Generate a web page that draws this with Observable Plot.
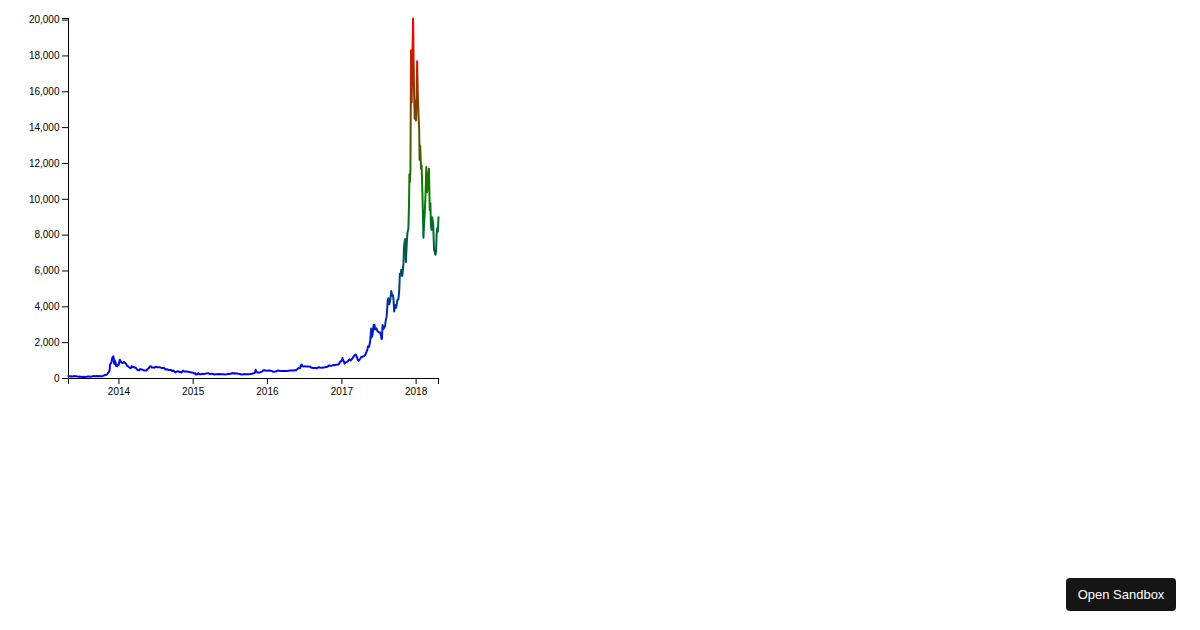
<!DOCTYPE html>
<html>
<head>
<meta charset="utf-8">
<script src="https://cdn.jsdelivr.net/npm/d3@7"></script>
<script src="https://cdn.jsdelivr.net/npm/@observablehq/plot@0.6"></script>
<style>
  html, body { margin: 0; padding: 0; background: #fff; }
  #chart { position: absolute; left: 0; top: 0; }
  #sandbox {
    position: absolute; left: 1066px; top: 578px; width: 110px; height: 33px;
    background: #151515; color: #fff; border-radius: 4px;
    font: 13px Arial, "Liberation Sans", sans-serif;
    display: flex; align-items: center; justify-content: center;
  }
</style>
</head>
<body>
<div id="chart"></div>
<div id="sandbox">Open Sandbox</div>
<script>
// Bitcoin daily high (USD), sampled
const dates = [
"2013-04-28","2013-05-02","2013-05-05","2013-05-10","2013-05-15","2013-05-20","2013-05-25","2013-05-31",
"2013-06-05","2013-06-10","2013-06-15","2013-06-20","2013-06-25","2013-06-30","2013-07-05","2013-07-08",
"2013-07-12","2013-07-18","2013-07-22","2013-07-28","2013-08-02","2013-08-08","2013-08-14","2013-08-20",
"2013-08-26","2013-09-01","2013-09-06","2013-09-12","2013-09-18","2013-09-25","2013-10-01","2013-10-08",
"2013-10-14","2013-10-20","2013-10-25","2013-10-31","2013-11-04","2013-11-08","2013-11-12","2013-11-16",
"2013-11-18","2013-11-19","2013-11-22","2013-11-26","2013-11-29","2013-12-04","2013-12-07","2013-12-08",
"2013-12-10","2013-12-13","2013-12-16","2013-12-18","2013-12-20","2013-12-23","2013-12-27","2013-12-31",
"2014-01-05","2014-01-08","2014-01-12","2014-01-15","2014-01-20","2014-01-26","2014-02-01","2014-02-05",
"2014-02-08","2014-02-11","2014-02-15","2014-02-20","2014-02-25","2014-03-01","2014-03-05","2014-03-10",
"2014-03-14","2014-03-20","2014-03-26","2014-04-01","2014-04-05","2014-04-10","2014-04-15","2014-04-20",
"2014-04-25","2014-05-01","2014-05-08","2014-05-15","2014-05-22","2014-05-28","2014-06-03","2014-06-08",
"2014-06-13","2014-06-18","2014-06-24","2014-07-01","2014-07-08","2014-07-15","2014-07-22","2014-07-29",
"2014-08-05","2014-08-12","2014-08-18","2014-08-24","2014-09-01","2014-09-08","2014-09-15","2014-09-20",
"2014-09-25","2014-10-01","2014-10-05","2014-10-12","2014-10-20","2014-10-28","2014-11-04","2014-11-12",
"2014-11-18","2014-11-25","2014-12-01","2014-12-08","2014-12-15","2014-12-22","2014-12-28","2014-12-31",
"2015-01-05","2015-01-10","2015-01-14","2015-01-17","2015-01-22","2015-01-26","2015-02-01","2015-02-08",
"2015-02-15","2015-02-22","2015-03-01","2015-03-08","2015-03-12","2015-03-18","2015-03-25","2015-04-01",
"2015-04-08","2015-04-15","2015-04-22","2015-04-30","2015-05-08","2015-05-15","2015-05-22","2015-05-31",
"2015-06-08","2015-06-15","2015-06-22","2015-07-01","2015-07-08","2015-07-12","2015-07-18","2015-07-24",
"2015-08-01","2015-08-10","2015-08-18","2015-08-24","2015-09-01","2015-09-08","2015-09-15","2015-09-22",
"2015-10-01","2015-10-08","2015-10-15","2015-10-22","2015-10-28","2015-11-01","2015-11-04","2015-11-07",
"2015-11-11","2015-11-15","2015-11-22","2015-12-01","2015-12-07","2015-12-11","2015-12-16","2015-12-21",
"2015-12-28","2015-12-31",
"2016-01-04","2016-01-09","2016-01-15","2016-01-20","2016-01-26","2016-02-01","2016-02-08","2016-02-15",
"2016-02-20","2016-02-28","2016-03-05","2016-03-12","2016-03-20","2016-03-28","2016-04-05","2016-04-12",
"2016-04-20","2016-04-28","2016-05-05","2016-05-12","2016-05-20","2016-05-28","2016-06-03","2016-06-10",
"2016-06-13","2016-06-16","2016-06-18","2016-06-22","2016-06-26","2016-07-01","2016-07-08","2016-07-15",
"2016-07-22","2016-07-30","2016-08-02","2016-08-08","2016-08-15","2016-08-22","2016-09-01","2016-09-08",
"2016-09-15","2016-09-22","2016-10-01","2016-10-08","2016-10-15","2016-10-22","2016-10-29","2016-11-05",
"2016-11-12","2016-11-19","2016-11-26","2016-12-03","2016-12-10","2016-12-17","2016-12-23","2016-12-28",
"2016-12-31",
"2017-01-04","2017-01-06","2017-01-11","2017-01-14","2017-01-20","2017-01-26","2017-02-01","2017-02-08",
"2017-02-14","2017-02-20","2017-02-26","2017-03-03","2017-03-10","2017-03-14","2017-03-18","2017-03-24",
"2017-03-31","2017-04-06","2017-04-12","2017-04-20","2017-04-27","2017-05-02","2017-05-06","2017-05-10",
"2017-05-15","2017-05-20","2017-05-25","2017-05-27","2017-06-01","2017-06-06","2017-06-11","2017-06-13",
"2017-06-16","2017-06-20","2017-06-25","2017-07-01","2017-07-07","2017-07-12","2017-07-15","2017-07-17",
"2017-07-20","2017-07-25","2017-08-01","2017-08-05","2017-08-09","2017-08-14","2017-08-17","2017-08-22",
"2017-08-27","2017-09-01","2017-09-05","2017-09-09","2017-09-12","2017-09-15","2017-09-20","2017-09-25",
"2017-10-01","2017-10-06","2017-10-10","2017-10-13","2017-10-16","2017-10-20","2017-10-25","2017-10-31",
"2017-11-02","2017-11-05","2017-11-08","2017-11-12","2017-11-15","2017-11-19","2017-11-24","2017-11-27",
"2017-11-29","2017-12-01","2017-12-04","2017-12-07","2017-12-10","2017-12-13","2017-12-17","2017-12-20",
"2017-12-22","2017-12-25","2017-12-28","2017-12-31",
"2018-01-03","2018-01-06","2018-01-09","2018-01-13","2018-01-16","2018-01-18","2018-01-21","2018-01-25",
"2018-01-28","2018-02-01","2018-02-03","2018-02-06","2018-02-09","2018-02-13","2018-02-16","2018-02-20",
"2018-02-24","2018-02-28","2018-03-05","2018-03-09","2018-03-12","2018-03-15","2018-03-18","2018-03-21",
"2018-03-26","2018-03-30","2018-04-02","2018-04-06","2018-04-09","2018-04-12","2018-04-15","2018-04-18",
"2018-04-21"
];
const highs = [
136,126,118,122,115,123,133,129,
122,110,103,111,104,97,82,76,
96,90,92,97,106,106,104,113,
120,135,131,137,131,134,132,131,
145,170,210,202,228,300,362,440,
755,785,845,936,1159,1242,1096,820,
1030,950,880,700,740,690,780,760,
1050,1000,915,880,870,930,860,820,
750,700,680,620,590,580,690,640,
640,615,585,490,470,455,530,510,
500,460,445,450,525,590,680,665,
612,620,605,655,630,625,625,590,
590,580,500,520,480,480,480,420,
440,390,340,390,400,360,335,440,
390,385,385,375,355,335,330,320,
280,300,230,215,240,310,240,235,
260,250,262,285,298,290,250,260,
260,225,237,237,245,239,242,233,
230,238,249,265,272,311,285,295,
282,267,258,230,230,245,232,232,
239,246,266,276,305,333,490,390,
340,335,325,375,400,455,470,440,
435,430,
434,456,435,425,396,380,385,409,
445,435,425,420,413,425,424,427,
443,450,450,456,455,535,575,580,
704,776,777,680,675,690,665,670,
670,660,615,595,585,590,575,630,
610,600,616,620,645,660,720,710,
718,750,745,770,776,792,923,980,
970,
1148,1040,950,830,900,925,990,1070,
1010,1090,1190,1280,1330,1250,1100,980,
1090,1200,1215,1250,1350,1480,1600,1800,
1770,2080,2790,2290,2450,2990,2980,2740,
2750,2800,2640,2580,2580,2420,2200,2220,
2990,2770,2920,3270,3450,4300,4480,4140,
4400,4890,4630,4650,4390,3740,4100,3950,
4380,4430,4900,5850,5760,6070,5720,6440,
7300,7600,7780,6500,7330,8100,8380,9700,
11400,10950,11600,18300,15400,17500,20089,17500,
15900,14500,15500,14400,
15400,17700,15900,14600,13900,12200,13000,11700,
11900,10300,9400,7850,8600,9400,10200,11800,
10400,11050,11700,9400,9800,8500,8300,9000,
8600,7200,7100,6900,7100,8100,8400,8200,
9000
];
const yTicks = [0,2000,4000,6000,8000,10000,12000,14000,16000,18000,20000];
const xTickYears = ["2014-01-01","2015-01-01","2016-01-01","2017-01-01","2018-01-01"];
const gradientStops = [[0, "red"], [0.5, "green"], [1, "blue"]];

const data = dates.map((d, i) => ({date: new Date(d + "T00:00:00"), high: highs[i]}));
const xTicks = xTickYears.map(d => new Date(d + "T00:00:00"));
const start = data[0].date, end = data[data.length - 1].date;
const maxHigh = d3.max(highs);

function gradientDefs() {
  const ns = "http://www.w3.org/2000/svg";
  const defs = document.createElementNS(ns, "defs");
  const g = document.createElementNS(ns, "linearGradient");
  g.setAttribute("id", "price-gradient");
  g.setAttribute("x1", "0"); g.setAttribute("y1", "0");
  g.setAttribute("x2", "0"); g.setAttribute("y2", "1");
  for (const [o, c] of gradientStops) {
    const s = document.createElementNS(ns, "stop");
    s.setAttribute("offset", o);
    s.setAttribute("stop-color", c);
    g.appendChild(s);
  }
  defs.appendChild(g);
  return defs;
}

const chart = Plot.plot({
  width: 460,
  height: 400,
  marginLeft: 68,
  marginRight: 22,
  marginTop: 18,
  marginBottom: 22,
  style: {fontFamily: "Arial, 'Liberation Sans', sans-serif", fontSize: "10px", color: "#000", background: "transparent"},
  x: {type: "utc", domain: [start, end]},
  y: {domain: [0, maxHigh]},
  marks: [
    gradientDefs,
    Plot.axisY({ticks: yTicks, tickSize: 6, tickPadding: 3, tickFormat: d => d3.format(",")(d), label: null, fill: "#000", stroke: "#000"}),
    Plot.axisY({ticks: [0, maxHigh], tickSize: 6, tickFormat: () => "", label: null, stroke: "#000"}),
    Plot.axisX({ticks: xTicks, tickSize: 6, tickPadding: 3, tickFormat: d3.utcFormat("%Y"), label: null, fill: "#000", stroke: "#000"}),
    Plot.axisX({ticks: [start, end], tickSize: 6, tickFormat: () => "", label: null, stroke: "#000"}),
    Plot.ruleY([0], {stroke: "#000"}),
    Plot.ruleX([start], {stroke: "#000"}),
    Plot.lineY(data, {x: "date", y: "high", stroke: "url(#price-gradient)", strokeWidth: 2, strokeLinejoin: "round"})
  ]
});
document.getElementById("chart").appendChild(chart);
</script>
</body>
</html>
